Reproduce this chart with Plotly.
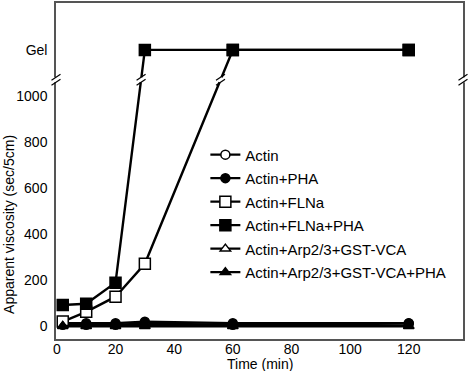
import plotly.graph_objects as go

# ---------------- data ----------------
time_min = [2, 10, 20, 30, 60, 120]
actin = [5, 5, 5, 10, 5, 10]
actin_pha = [12, 12, 12, 18, 12, 12]
actin_flna = [19, 61, 127, 270, "Gel", "Gel"]
actin_flna_pha = [91, 96, 188, "Gel", "Gel", "Gel"]
arp_vca = [0, 0, 0, 0, 0, 0]
arp_vca_pha = [-2, -2, -2, -2, -2, -2]

series_names = ["Actin", "Actin+PHA", "Actin+FLNa", "Actin+FLNa+PHA",
                "Actin+Arp2/3+GST-VCA", "Actin+Arp2/3+GST-VCA+PHA"]
series_values = [actin, actin_pha, actin_flna, actin_flna_pha, arp_vca, arp_vca_pha]
x_ticks = [0, 20, 40, 60, 80, 100, 120]
y_ticks = [0, 200, 400, 600, 800, 1000]

# ---------------- styling ----------------
GEL_POS = 1200   # position on the axis where the "Gel" state is drawn
BREAK_POS = 1070 # where the axis break is drawn
symbols = ["circle", "circle", "square", "square", "triangle-up", "triangle-up"]
fills = ["white", "black", "white", "black", "white", "black"]
sizes = [9, 9, 11, 11, 9, 9]
FONT = "Liberation Sans, Arial, Helvetica, sans-serif"

def to_axis(v):
    return GEL_POS if v == "Gel" else v

fig = go.Figure()
for i in range(6):
    ys = [to_axis(v) for v in series_values[i]]
    fig.add_trace(go.Scatter(
        x=time_min, y=ys, name=series_names[i], mode="lines+markers",
        legendgroup=str(i),
        line=dict(color="black", width=2.4),
        marker=dict(symbol=symbols[i], size=sizes[i], color=fills[i],
                    line=dict(color="black", width=1.5)),
    ))

shapes = []
px_x = 1 / 2.93   # data units per pixel along x
px_y = 1 / 0.23   # data units per pixel along y

def slash_pair(xc, yc, xref):
    out = []
    dxs = 4.5 * (px_x if xref == "x" else 1 / 407)
    dys = 3.0 * px_y
    gap = 2.5 * px_y
    for off in (-gap, gap):
        out.append(dict(type="line", xref=xref, yref="y",
                        x0=xc - dxs, x1=xc + dxs,
                        y0=yc + off - dys, y1=yc + off + dys,
                        line=dict(color="black", width=1.2), layer="above"))
    return out

# axis breaks (left & right)
for xp in (0, 1):
    shapes.append(dict(type="line", xref="paper", yref="y", x0=xp, x1=xp,
                       y0=BREAK_POS - 2.5 * px_y, y1=BREAK_POS + 2.5 * px_y,
                       line=dict(color="white", width=4), layer="above"))
    shapes += slash_pair(xp, BREAK_POS, "paper")

# breaks on the lines that cross into the "Gel" region
for vals in (actin_flna, actin_flna_pha):
    for k in range(len(vals) - 1):
        a, b = vals[k], vals[k + 1]
        if a != "Gel" and b == "Gel":
            x0, x1 = time_min[k], time_min[k + 1]
            t = (BREAK_POS - a) / (GEL_POS - a)
            xc = x0 + t * (x1 - x0)
            slope = (x1 - x0) / (GEL_POS - a)
            g = 2.5 * px_y
            shapes.append(dict(type="line", xref="x", yref="y",
                               x0=xc - g * slope, x1=xc + g * slope,
                               y0=BREAK_POS - g, y1=BREAK_POS + g,
                               line=dict(color="white", width=4), layer="above"))
            shapes += slash_pair(xc, BREAK_POS, "x")

fig.update_layout(
    width=474, height=371,
    margin=dict(l=56, r=11, t=3, b=32, autoexpand=False),
    paper_bgcolor="white", plot_bgcolor="white",
    font=dict(family=FONT, size=14, color="black"),
    showlegend=True,
    legend=dict(x=0.367, y=0.597, xanchor="left", yanchor="top",
                bgcolor="rgba(0,0,0,0)", font=dict(size=15),
                tracegroupgap=1, traceorder="grouped"),
    shapes=shapes,
    xaxis=dict(range=[-0.3, 138.5], tickvals=x_ticks, showgrid=False, zeroline=False,
               showline=True, linecolor="#555", linewidth=1.5, mirror=True, ticks="",
               automargin=False, ticklabelstandoff=-4),
    yaxis=dict(range=[-57, 1404], tickvals=y_ticks + [GEL_POS],
               ticktext=[str(v) for v in y_ticks] + ["Gel"],
               showgrid=False, zeroline=False, showline=True, linecolor="#555",
               linewidth=1.5, mirror=True, ticks="", ticklabelstandoff=4,
               automargin=False),
    annotations=[
        dict(text="Apparent viscosity (sec/5cm)", textangle=-90,
             xref="paper", yref="y", x=-0.115, y=440, showarrow=False,
             font=dict(size=14), xanchor="center", yanchor="middle"),
        dict(text="Time (min)", xref="paper", yref="paper", x=0.5, y=-0.045,
             showarrow=False, font=dict(size=14), xanchor="center", yanchor="top"),
    ],
)

fig.write_html("out.html", config={"displayModeBar": False},
               post_script="document.body.style.margin='0';document.body.style.padding='0';")
